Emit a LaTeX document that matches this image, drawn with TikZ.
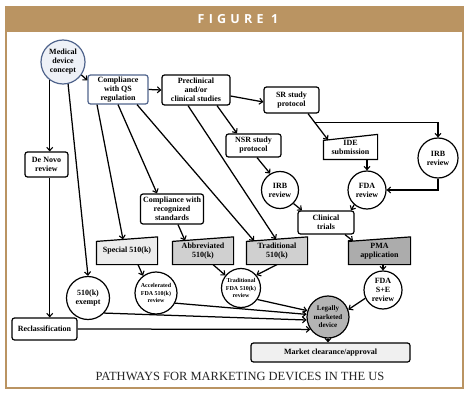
\documentclass[tikz,border=0pt]{standalone}
\usepackage{fontspec}
\setmainfont{Liberation Serif}
\newfontfamily\headfont{Open Sans}[LetterSpace=34]
\usetikzlibrary{arrows.meta,calc,backgrounds}
\definecolor{tanc}{RGB}{186,148,98}
\definecolor{medblue}{RGB}{80,100,140}
\definecolor{medfill}{RGB}{238,241,247}
\definecolor{lightg}{RGB}{236,236,236}
\definecolor{midg}{RGB}{208,208,208}
\definecolor{darkg}{RGB}{172,172,172}
\definecolor{legalg}{RGB}{180,180,180}
\definecolor{mktg}{RGB}{240,240,240}
\tikzset{
  base/.style={font=\fontsize{8}{9}\selectfont\bfseries, align=center, inner sep=0pt, line width=1.2pt},
  rbox/.style={base, draw, rounded corners=2.5pt, fill=white},
  circ/.style={base, draw, circle, fill=white},
  minput/.style={base},
  small/.style={font=\fontsize{6}{7.5}\selectfont\bfseries},
  conn/.style={line width=1.25pt, -{Straight Barb[length=3.3pt,width=6pt,line width=1.1pt]}},
  shapeline/.style={line width=1.2pt}
}
\begin{document}
\begin{tikzpicture}[x=1pt,y=-1pt]
\useasboundingbox (0,0) rectangle (474,401);
% frame
\fill[tanc] (6,7) rectangle (463,32);
\draw[tanc, line width=1.5pt] (6,7) rectangle (463,388);
\node[font=\headfont\bfseries\fontsize{12.5}{12.5}\selectfont, text=white] (fig) at (238,19.5) {FIGURE 1};
\node[font=\fontsize{12.5}{14}\selectfont, text=black!85] (cap) at (240,376) {PATHWAYS FOR MARKETING DEVICES IN THE US};

% nodes
\node[circ, draw=medblue, fill=medfill, minimum size=44pt] (med) at (63,62) {Medical\\device\\concept};
\node[rbox, draw=medblue, minimum width=60pt, minimum height=29pt] (qs) at (118,89.5) {Compliance\\with QS\\regulation};
\node[rbox, minimum width=68pt, minimum height=30pt] (pre) at (196,90) {Preclinical\\and/or\\clinical studies};
\node[rbox, minimum width=55pt, minimum height=26pt] (sr) at (291.5,100) {SR study\\protocol};
\node[rbox, minimum width=55pt, minimum height=23pt] (nsr) at (253.5,145.5) {NSR study\\protocol};
\node[minput, minimum width=53pt, minimum height=24pt] (ide) at (350.5,147) {IDE\\submission};
\node[circ, minimum size=40pt] (irbR) at (438,158) {IRB\\review};
\node[circ, minimum size=37pt] (irbM) at (280,190) {IRB\\review};
\node[circ, minimum size=38pt] (fdar) at (367,190) {FDA\\review};
\node[rbox, minimum width=56pt, minimum height=23pt] (clin) at (326,222.5) {Clinical\\trials};
\node[rbox, minimum width=63pt, minimum height=30pt] (crs) at (172,209) {Compliance with\\recognized\\standards};
\node[rbox, minimum width=43pt, minimum height=25pt] (denovo) at (46.5,164.5) {De Novo\\review};
\node[minput, minimum width=60pt, minimum height=26.5pt] (spec) at (127,250.75) {Special 510(k)};
\node[minput, minimum width=60pt, minimum height=26.5pt] (abb) at (203,250.75) {Abbreviated\\510(k)};
\node[minput, minimum width=60pt, minimum height=26.5pt] (trad) at (277,250.75) {Traditional\\510(k)};
\node[minput, minimum width=61pt, minimum height=26.5pt] (pma) at (379.5,250.75) {PMA\\application};
\node[circ, small, minimum size=42pt] (acc) at (156,293) {Accelerated\\FDA 510(k)\\review};
\node[circ, small, minimum size=39pt] (trev) at (241,288) {Traditional\\FDA 510(k)\\review};
\node[circ, minimum size=43pt] (exempt) at (88,298) {510(k)\\exempt};
\node[circ, minimum size=38pt] (fdase) at (383,290) {FDA\\S+E\\review};
\node[circ, font=\fontsize{7}{8.5}\selectfont\bfseries, fill=legalg, minimum size=42pt] (legal) at (328,317) {Legally\\marketed\\device};
\node[rbox, minimum width=65pt, minimum height=22pt] (reclass) at (44.5,329) {Reclassification};
\node[rbox, fill=mktg, minimum width=159pt, minimum height=19pt] (market) at (330.5,352.5) {Market clearance/approval};

% manual-input shapes
\begin{scope}[on background layer]
\fill[white] (0,0) rectangle (474,401);
\foreach \n/\c/\d in {spec/lightg/4.5, abb/midg/4.5, trad/midg/4.5, pma/darkg/4.5, ide/white/6}{
  \draw[shapeline, fill=\c] (\n.south west) -- ([yshift=-\d pt]\n.north west) -- (\n.north east) -- (\n.south east) -- cycle;
}
\end{scope}

% connectors
\draw[conn] (med.-35) -- ([yshift=9pt]qs.west);
\draw[conn] (med.234) -- (med.234 |- denovo.north);
\draw[conn] (med.283) -- (exempt.north);
\draw[conn] (qs.east) -- (pre.west);
\draw[conn] ([xshift=-21pt]qs.south) -- ([xshift=-4pt,yshift=-2.5pt]spec.north);
\draw[conn] (qs.south) -- ([xshift=-15pt]crs.north);
\draw[conn] ([xshift=19pt]qs.south) -- ([xshift=-23pt,yshift=-4pt]trad.north);
\draw[conn] ([xshift=-8pt]pre.south) -- ([xshift=-1pt,yshift=-2.3pt]trad.north);
\draw[conn] ([xshift=21pt]pre.south) -- ([xshift=-16.5pt]nsr.north);
\draw[conn] ([yshift=-6pt]pre.east) -- ([yshift=-2pt]sr.west);
\coordinate (srs) at ([xshift=16.5pt]sr.south);
\coordinate (idet) at ([xshift=-22.5pt,yshift=-5.5pt]ide.north);
\draw[conn] (srs) -- (idet);
\coordinate (br) at ($(srs)!0.34!(idet)$);
\draw[conn] (br) -| (irbR.north);
\draw[conn] (fdar.north |- ide.south) -- (fdar.north);
\draw[conn] (irbR.south) |- (fdar.east);
\draw[conn] ([xshift=3.5pt]nsr.south) -- (irbM.121);
\draw[conn] (irbM.-45) -- ([xshift=-24pt]clin.north);
\draw[conn] (fdar.229) -- ([xshift=25pt]clin.north);
\draw[conn] ([xshift=19pt]clin.south) -- ([xshift=-26.5pt,yshift=-4.2pt]pma.north);
\draw[conn] ([xshift=6pt]crs.south) -- ([xshift=-18pt,yshift=-3.6pt]abb.north);
\draw[conn] ([xshift=11pt]spec.south) -- (acc.127);
\draw[conn] ([xshift=10pt]abb.south) -- (trev.141);
\draw[conn] (trad.south) -- (trev.40);
\draw[conn] (fdase.north |- pma.south) -- (fdase.north);
\draw[conn] (fdase.205) -- (legal.20);
\draw[conn] (trev.-35) -- (legal.163);
\draw[conn] (acc.-28) -- (legal.173);
\draw[conn] (exempt.-43) -- (legal.188);
\draw[conn] (med.234 |- denovo.south) -- (med.234 |- reclass.north);
\draw[conn] (reclass.east) -- (legal.215);
\draw[conn] (legal.south) -- (legal.south |- market.north);
\end{tikzpicture}
\end{document}
